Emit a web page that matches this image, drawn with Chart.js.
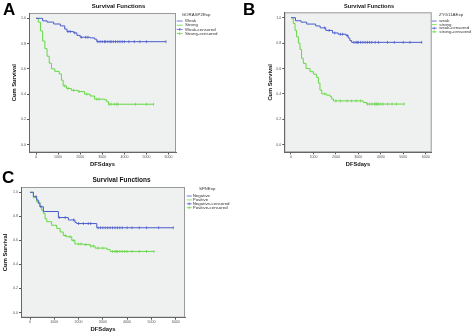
<!DOCTYPE html>
<html>
<head>
<meta charset="utf-8">
<script src="https://cdn.jsdelivr.net/npm/chart.js@4.4.1/dist/chart.umd.min.js"></script>
<style>
  html, body { margin: 0; padding: 0; background: #fff; }
  body { width: 474px; height: 335px; position: relative; overflow: hidden; font-family: "Liberation Sans", Arial, sans-serif; }
  canvas { position: absolute; }
  .tag { position: absolute; font-weight: bold; font-size: 17px; line-height: 1; color: #000; }
</style>
</head>
<body>
<canvas id="chartA" width="237" height="170" style="left:0;top:0"></canvas>
<canvas id="chartB" width="210" height="170" style="left:264px;top:0"></canvas>
<canvas id="chartC" width="243" height="167" style="left:0;top:168px"></canvas>
<div class="tag" style="left:3px;top:1px">A</div>
<div class="tag" style="left:243px;top:1px">B</div>
<div class="tag" style="left:2px;top:169px">C</div>
<script>
var dayTicks = [0, 1000, 2000, 3000, 4000, 5000, 6000];
var survTicks = [0, 0.2, 0.4, 0.6, 0.8, 1.0];

// A - GORASP2Exp
var aLabels = ['Weak', 'Strong', 'Weak-censored', 'Strong-censored'];
var aWeakDays = [0, 300, 500, 800, 1100, 1300, 1400, 1700, 1850, 2000, 2450, 2650, 2750, 5880];
var aWeakSurv = [1, 0.98, 0.97, 0.955, 0.94, 0.915, 0.895, 0.885, 0.865, 0.85, 0.845, 0.835, 0.815, 0.815];
var aStrongDays = [0, 100, 200, 300, 400, 500, 600, 700, 850, 1050, 1150, 1230, 1380, 1600, 1900, 2200, 2450, 2650, 3100, 3200, 3280, 5320];
var aStrongSurv = [1, 0.97, 0.9, 0.82, 0.76, 0.7, 0.645, 0.6, 0.58, 0.56, 0.51, 0.465, 0.445, 0.43, 0.42, 0.4, 0.385, 0.36, 0.355, 0.34, 0.32, 0.32];
var aWeakCensor = [1450, 1550, 1750, 2050, 2250, 2350, 2800, 2900, 3000, 3100, 3150, 3250, 3350, 3400, 3500, 3600, 3700, 3800, 3900, 4000, 4200, 4450, 4700, 5000, 5880];
var aStrongCensor = [1300, 1450, 1700, 1950, 2300, 2750, 2850, 3300, 3400, 3550, 3650, 3700, 4500, 5000, 5320];

// B - ZYG11AExp
var bLabels = ['weak', 'strong', 'weak-censored', 'strong-censored'];
var bWeakDays = [0, 200, 450, 700, 1100, 1300, 1550, 1850, 2100, 2450, 2550, 2620, 2700, 5820];
var bWeakSurv = [1, 0.976, 0.965, 0.95, 0.935, 0.92, 0.9, 0.88, 0.87, 0.86, 0.84, 0.82, 0.806, 0.806];
var bStrongDays = [0, 100, 180, 250, 330, 400, 470, 550, 670, 850, 1000, 1140, 1220, 1290, 1370, 1590, 1740, 1810, 1890, 3220, 3370, 5040];
var bStrongSurv = [1, 0.955, 0.9, 0.85, 0.8, 0.75, 0.68, 0.64, 0.6, 0.575, 0.555, 0.53, 0.485, 0.43, 0.4, 0.39, 0.38, 0.36, 0.345, 0.333, 0.32, 0.32];
var bWeakCensor = [1500, 1700, 1950, 2200, 2300, 2500, 2800, 2900, 2950, 3000, 3100, 3200, 3300, 3400, 3500, 3600, 3750, 3900, 4300, 4600, 5000, 5300, 5820];
var bStrongCensor = [1500, 2000, 2200, 2500, 2700, 2900, 3100, 3400, 3500, 3600, 3700, 3750, 3800, 3850, 3900, 4000, 4100, 4300, 4500, 4700, 5040];

// C - SFNExp
var cLabels = ['Negative', 'Positive', 'Negative-censored', 'Positive-censored'];
var cNegDays = [0, 140, 275, 340, 410, 550, 1170, 1580, 1850, 1920, 2750, 5900];
var cNegSurv = [1, 0.964, 0.936, 0.908, 0.88, 0.84, 0.79, 0.77, 0.75, 0.74, 0.705, 0.705];
var cPosDays = [0, 140, 275, 410, 480, 550, 620, 690, 890, 1100, 1240, 1370, 1510, 1720, 1850, 2200, 2470, 2680, 3160, 3300, 5110];
var cPosSurv = [1, 0.955, 0.92, 0.88, 0.85, 0.825, 0.78, 0.755, 0.726, 0.7, 0.67, 0.64, 0.63, 0.6, 0.57, 0.565, 0.553, 0.536, 0.525, 0.508, 0.508];
var cNegCensor = [250, 450, 1200, 1450, 1800, 2000, 2200, 2400, 2500, 2800, 2900, 3000, 3100, 3200, 3300, 3400, 3500, 3600, 3700, 3800, 4000, 4200, 4500, 4800, 5300, 5900];
var cPosCensor = [1450, 1650, 1800, 2000, 2100, 2300, 2500, 2600, 2800, 3000, 3400, 3500, 3550, 3600, 3700, 3800, 3900, 4000, 4200, 4500, 4800, 5110];

var BLUE = '#4a5ccc';
var GREEN = '#66d846';
var FONT = '"Liberation Sans", Arial, sans-serif';

// survival value in effect at time t (step function)
function survAt(days, surv, t) {
    var s = surv[0];
    for (var i = 0; i < days.length; i++) {
        if (days[i] <= t) s = surv[i];
    }
    return s;
}

function toPoints(days, surv) {
    return days.map(function (d, i) { return { x: d, y: surv[i] }; });
}

function censorPoints(times, days, surv) {
    return times.map(function (t) { return { x: t, y: survAt(days, surv, t) }; });
}

// gray plot background with a frame, like SPSS
var panelFrame = {
    id: 'panelFrame',
    beforeDraw: function (chart) {
        var ctx = chart.ctx, a = chart.chartArea;
        ctx.save();
        ctx.fillStyle = '#eff0f0';
        ctx.fillRect(a.left, a.top, a.right - a.left, a.bottom - a.top);
        ctx.strokeStyle = '#9a9a9a';
        ctx.lineWidth = 1;
        ctx.strokeRect(a.left + 0.5, a.top + 0.5, a.right - a.left - 1, a.bottom - a.top - 1);
        ctx.restore();
    }
};

function kmLegend(cfg) {
    return {
        id: 'kmLegend',
        afterDraw: function (chart) {
            var ctx = chart.ctx, a = chart.chartArea;
            var x0 = a.right;
            ctx.save();
            ctx.font = '4.4px ' + FONT;
            ctx.fillStyle = '#333';
            ctx.textBaseline = 'middle';
            ctx.fillText(cfg.title, x0 + cfg.titleDx, a.top + cfg.titleDy);
            chart.data.datasets.forEach(function (ds, i) {
                var y = a.top + cfg.rowDy + i * cfg.rowStep;
                ctx.strokeStyle = ds.borderColor;
                ctx.lineWidth = 0.8;
                ctx.beginPath();
                ctx.moveTo(x0 + cfg.swatchDx, y);
                ctx.lineTo(x0 + cfg.swatchDx + cfg.swatchW, y);
                if (i >= 2) {
                    var mx = x0 + cfg.swatchDx + cfg.swatchW / 2;
                    ctx.moveTo(mx, y - 1.3);
                    ctx.lineTo(mx, y + 1.3);
                }
                ctx.stroke();
                ctx.fillStyle = '#333';
                ctx.fillText(ds.label, x0 + cfg.textDx, y);
            });
            ctx.restore();
        }
    };
}

function makeChart(id, o) {
    var ctx = document.getElementById(id).getContext('2d');
    return new Chart(ctx, {
        type: 'line',
        data: {
            datasets: [
                { label: o.labels[0], data: toPoints(o.d1, o.s1), borderColor: BLUE, borderWidth: 1, stepped: true, pointRadius: 0, fill: false, yAxisID: 'y' },
                { label: o.labels[1], data: toPoints(o.d2, o.s2), borderColor: GREEN, borderWidth: 1, stepped: true, pointRadius: 0, fill: false, yAxisID: 'y' },
                { label: o.labels[2], data: censorPoints(o.c1, o.d1, o.s1), showLine: false, pointStyle: 'line', rotation: 90, pointRadius: 1.4, borderColor: BLUE, borderWidth: 0.8, yAxisID: 'y' },
                { label: o.labels[3], data: censorPoints(o.c2, o.d2, o.s2), showLine: false, pointStyle: 'line', rotation: 90, pointRadius: 1.4, borderColor: GREEN, borderWidth: 0.8, yAxisID: 'y' }
            ]
        },
        options: {
            responsive: false,
            animation: false,
            devicePixelRatio: 1,
            layout: { padding: 0 },
            plugins: {
                legend: { display: false },
                tooltip: { enabled: false },
                title: {
                    display: true,
                    text: 'Survival Functions',
                    color: '#111',
                    font: { family: FONT, size: o.titleSize, weight: 'bold' },
                    padding: { top: o.titleTop, bottom: o.titleBottom }
                }
            },
            scales: {
                x: {
                    type: 'linear',
                    min: o.xMin,
                    max: o.xMax,
                    afterBuildTicks: function (s) { s.ticks = dayTicks.map(function (v) { return { value: v }; }); },
                    afterFit: function (s) { s.height = o.xHeight; },
                    grid: { drawOnChartArea: false, drawTicks: true, tickLength: 2, color: '#555' },
                    border: { color: '#666' },
                    ticks: { font: { family: FONT, size: 3.6 }, color: '#555', padding: 0.5, maxRotation: 0, autoSkip: false,
                        callback: function (v) { return String(v); } },
                    title: { display: true, text: 'DFSdays', color: '#111', font: { family: FONT, size: o.axisTitleSize, weight: 'bold' },
                        padding: { top: 0, bottom: o.xTitleBottom } }
                },
                y: {
                    type: 'linear',
                    position: 'left',
                    min: o.yMin,
                    max: o.yMax,
                    afterBuildTicks: function (s) { s.ticks = survTicks.map(function (v) { return { value: v }; }); },
                    afterFit: function (s) { s.width = o.yWidth; },
                    grid: { drawOnChartArea: false, drawTicks: true, tickLength: 2, color: '#555' },
                    border: { color: '#666' },
                    ticks: { font: { family: FONT, size: 3.6 }, color: '#555', padding: 1,
                        callback: function (v) { return v.toFixed(1); } },
                    title: { display: true, text: 'Cum Survival', color: '#111', font: { family: FONT, size: o.axisTitleSize, weight: 'bold' },
                        padding: { top: o.yTitleLeft, bottom: 0 } }
                },
                // empty box on the right that leaves room for the legend
                spacer: {
                    type: 'linear',
                    axis: 'y',
                    position: 'right',
                    display: true,
                    grid: { display: false },
                    border: { display: false },
                    ticks: { display: false },
                    afterFit: function (s) { s.width = o.spacer; }
                }
            }
        },
        plugins: [panelFrame, kmLegend(o.legend)]
    });
}

makeChart('chartA', {
    labels: aLabels, d1: aWeakDays, s1: aWeakSurv, d2: aStrongDays, s2: aStrongSurv, c1: aWeakCensor, c2: aStrongCensor,
    xMin: -317, xMax: 6335, yMin: -0.062, yMax: 1.042,
    titleSize: 6, titleTop: 2.4, titleBottom: 3.4,
    axisTitleSize: 5.8, yTitleLeft: 10.5, xTitleBottom: 2.4,
    yWidth: 29, xHeight: 17.5, spacer: 61,
    legend: { title: 'GORASP2Exp', titleDx: 5.7, titleDy: 2.2, rowDy: 8, rowStep: 4.2, swatchDx: 0.7, swatchW: 6, textDx: 9 }
});

makeChart('chartB', {
    labels: bLabels, d1: bWeakDays, s1: bWeakSurv, d2: bStrongDays, s2: bStrongSurv, c1: bWeakCensor, c2: bStrongCensor,
    xMin: -298, xMax: 6267, yMin: -0.06, yMax: 1.0425,
    titleSize: 5.6, titleTop: 2.6, titleBottom: 3.0,
    axisTitleSize: 5.7, yTitleLeft: 2.6, xTitleBottom: 2.6,
    yWidth: 20.3, xHeight: 17.7, spacer: 42.3,
    legend: { title: 'ZYG11AExp', titleDx: 7.3, titleDy: 2.7, rowDy: 8.7, rowStep: 3.6, swatchDx: 0, swatchW: 5, textDx: 7.6 }
});

makeChart('chartC', {
    labels: cLabels, d1: cNegDays, s1: cNegSurv, d2: cPosDays, s2: cPosSurv, c1: cNegCensor, c2: cPosCensor,
    xMin: -371, xMax: 6384, yMin: -0.043, yMax: 1.044,
    titleSize: 6.5, titleTop: 8.8, titleBottom: 2.4,
    axisTitleSize: 5.9, yTitleLeft: 1.6, xTitleBottom: 2.1,
    yWidth: 21, xHeight: 17.3, spacer: 58,
    legend: { title: 'SFNExp', titleDx: 14, titleDy: 2, rowDy: 9, rowStep: 3.9, swatchDx: 1.7, swatchW: 5, textDx: 7.7 }
});
</script>
</body>
</html>
